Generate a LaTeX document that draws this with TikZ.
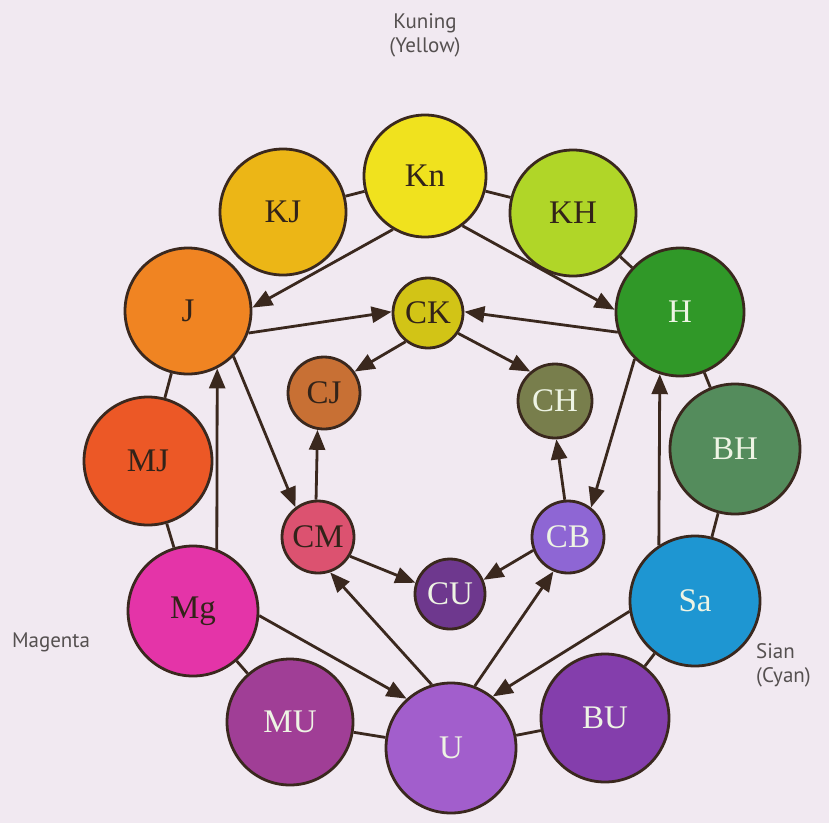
\documentclass[tikz,border=0pt]{standalone}
\usepackage{fontspec}
\setmainfont{Liberation Serif}
\newfontfamily\labfont{PT Sans}
\usetikzlibrary{arrows.meta}
\definecolor{bg}{RGB}{241,233,241}
\definecolor{edge}{RGB}{58,40,30}
\definecolor{txtdark}{RGB}{50,35,25}
\definecolor{txtlight}{RGB}{238,244,228}
\definecolor{sidetxt}{RGB}{85,80,80}
\definecolor{cKn}{RGB}{240,226,30}
\definecolor{cKJ}{RGB}{236,182,22}
\definecolor{cKH}{RGB}{176,214,40}
\definecolor{cJ}{RGB}{240,132,34}
\definecolor{cH}{RGB}{48,152,40}
\definecolor{cMJ}{RGB}{236,88,38}
\definecolor{cBH}{RGB}{84,140,92}
\definecolor{cMg}{RGB}{228,52,168}
\definecolor{cSa}{RGB}{30,150,210}
\definecolor{cMU}{RGB}{160,62,150}
\definecolor{cU}{RGB}{162,94,204}
\definecolor{cBU}{RGB}{132,62,172}
\definecolor{cCK}{RGB}{210,196,22}
\definecolor{cCJ}{RGB}{200,112,52}
\definecolor{cCH}{RGB}{120,126,76}
\definecolor{cCM}{RGB}{220,82,112}
\definecolor{cCB}{RGB}{142,102,212}
\definecolor{cCU}{RGB}{110,56,142}
\begin{document}
\begin{tikzpicture}[x=1pt,y=-1pt,
  circ/.style={circle,draw=edge,line width=2.8pt,inner sep=0pt,font=\fontsize{33}{33}\selectfont},
  dk/.style={text=txtdark},
  lt/.style={text=txtlight},
  link/.style={draw=edge,line width=2.8pt},
  arr/.style={link,-{Triangle[length=20pt,width=16pt]}},
  side/.style={font=\labfont\fontsize{21}{24}\selectfont,text=sidetxt,inner sep=0pt}
]
\fill[bg] (0,0) rectangle (829,823);
\useasboundingbox (0,0) rectangle (829,823);

% outer ring
\node[circ,dk,fill=cKn,minimum size=122pt] (Kn) at (425,176) {Kn};
\node[circ,dk,fill=cKJ,minimum size=126pt] (KJ) at (283,212) {KJ};
\node[circ,dk,fill=cKH,minimum size=126pt] (KH) at (573,213) {KH};
\node[circ,dk,fill=cJ,minimum size=126pt] (J) at (188,311) {J};
\node[circ,lt,fill=cH,minimum size=128pt] (H) at (680,312) {H};
\node[circ,dk,fill=cMJ,minimum size=128pt] (MJ) at (148,461) {MJ};
\node[circ,lt,fill=cBH,minimum size=130pt] (BH) at (735,449) {BH};
\node[circ,dk,fill=cMg,minimum size=130pt] (Mg) at (193,611) {Mg};
\node[circ,lt,fill=cSa,minimum size=130pt] (Sa) at (695,601) {Sa};
\node[circ,lt,fill=cMU,minimum size=126pt] (MU) at (290,722) {MU};
\node[circ,lt,fill=cU,minimum size=130pt] (U) at (451,748) {U};
\node[circ,lt,fill=cBU,minimum size=128pt] (BU) at (605,718) {BU};

% inner ring
\node[circ,dk,fill=cCK,minimum size=70pt] (CK) at (428,313) {CK};
\node[circ,dk,fill=cCJ,minimum size=72pt] (CJ) at (324,393) {CJ};
\node[circ,lt,fill=cCH,minimum size=74pt] (CH) at (555,401) {CH};
\node[circ,dk,fill=cCM,minimum size=72pt] (CM) at (318,537) {CM};
\node[circ,lt,fill=cCB,minimum size=72pt] (CB) at (568,537) {CB};
\node[circ,lt,fill=cCU,minimum size=70pt] (CU) at (450,594) {CU};

% side labels
\node[side,align=center] (ky) at (425,35) {Kuning\\(Yellow)};
\node[side] (mg) at (51,642) {Magenta};
\node[side,align=left,anchor=west] (cy) at (756,665) {Sian\\(Cyan)};

% ring links
\path[link] (Kn) -- (KJ);
\path[link] (Kn) -- (KH);
\path[link] (KH) -- (H);
\path[link] (H) -- (BH);
\path[link] (BH) -- (Sa);
\path[link] (Sa) -- (BU);
\path[link] (BU) -- (U);
\path[link] (U) -- (MU);
\path[link] (MU) -- (Mg);
\path[link] (Mg) -- (MJ);
\path[link] (MJ) -- (J);

% arrows
\path[arr] (Kn.239) -- (J.3);
\path[arr] (Kn.-53) -- (H.178);
\path[arr] (J.-20) -- (CK.178);
\path[arr] (H.198) -- (CK.2);
\path[arr] (CK.232) -- (CJ.35);
\path[arr] (CK.-34) -- (CH.130);
\path[arr] (J.-45) -- (CM.127);
\path[arr] (H.226) -- (CB.52);
\path[arr] (CM.93) -- (CJ.-100);
\path[arr] (CB.95) -- (CH.-88);
\path[arr] (CM.-31) -- (CU.162);
\path[arr] (CB.201) -- (CU.23);
\path[arr] (Mg.69) -- (J.-63);
\path[arr] (Sa.123) -- (H.-108);
\path[arr] (Mg.-4) -- (U.132);
\path[arr] (Sa.189) -- (U.51);
\path[arr] (U.107) -- (CM.-71);
\path[arr] (U.69) -- (CB.-113);
\end{tikzpicture}
\end{document}
